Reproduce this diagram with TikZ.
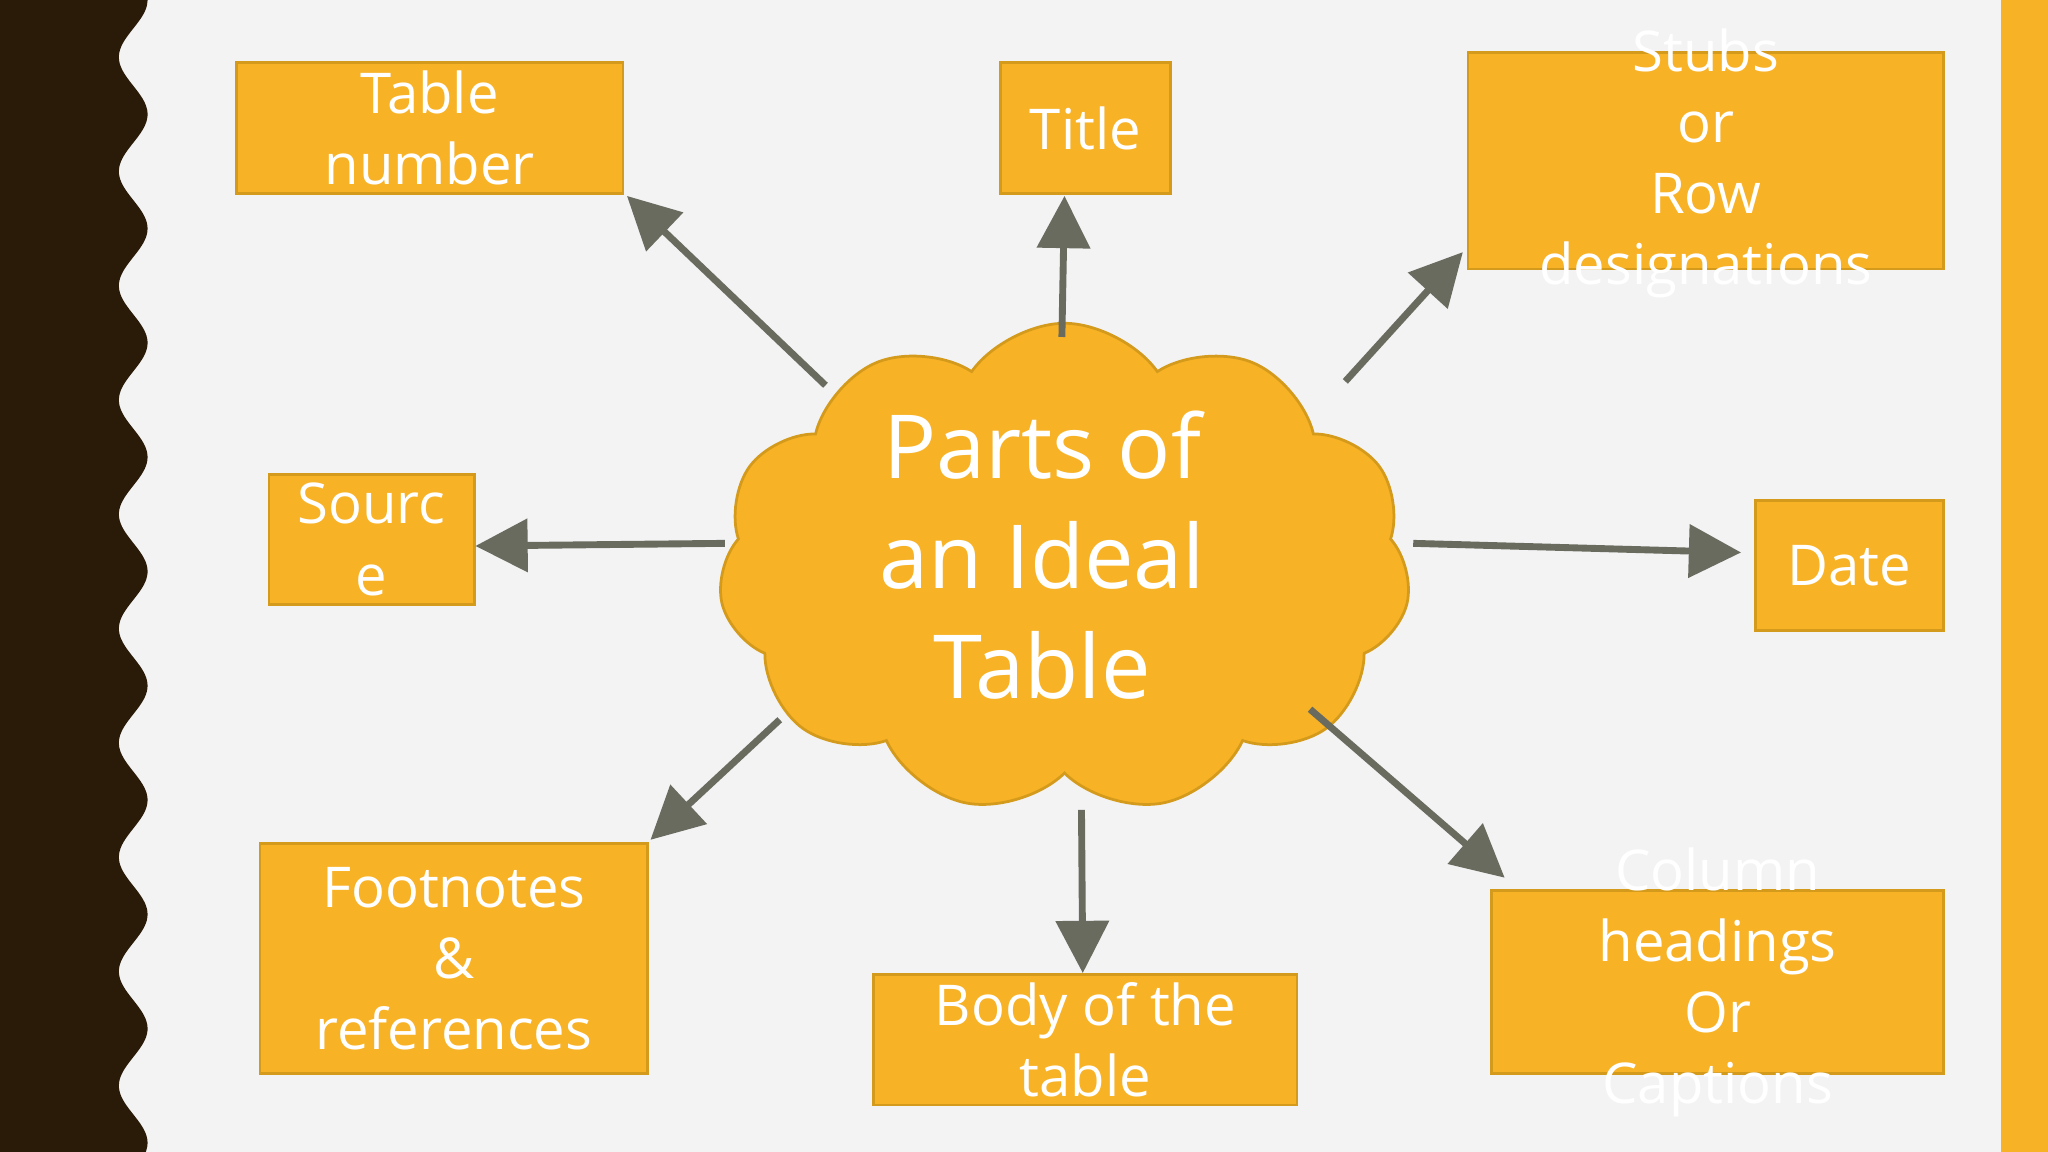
\documentclass[tikz,border=0pt]{standalone}
\usepackage{fontspec}
\setmainfont{Open Sans}
\usetikzlibrary{shapes.symbols,arrows.meta}
\definecolor{bg}{HTML}{F3F3F4}
\definecolor{band}{HTML}{2A1A08}
\definecolor{org}{HTML}{F8B226}
\definecolor{orgline}{HTML}{D49A1C}
\definecolor{arr}{HTML}{686B5E}
\tikzset{
 lbl/.style={text=white,align=center,font=\fontsize{24.5}{31}\selectfont},
 conn/.style={draw=arr,line width=3pt,-{Triangle[length=0.8cm,width=0.8cm]}}
}
\begin{document}
\begin{tikzpicture}[x=0.02cm,y=-0.02cm]
\fill[bg] (0,0) rectangle (1568,882);
\fill[band] (0,0) -- plot[domain=0:882,samples=200,smooth] ({102+11*cos(\x/87.5*360)},\x) -- (0,882) -- cycle;
\fill[org] (1532,0) rectangle (1568,882);
% cloud
\node[cloud,cloud puffs=11,cloud puff arc=110,aspect=1.4,draw=orgline,fill=org,line width=1.2pt,minimum width=530*0.02cm,minimum height=375*0.02cm] (cl) at (815,435) {};
\node[text=white,align=center,font=\fontsize{38.5}{48}\selectfont] at (798,425) {Parts of\\an Ideal\\Table};
% boxes
\node[draw=orgline,fill=org,line width=1.2pt,minimum width=296*0.02cm,minimum height=100*0.02cm,inner sep=0] (tn) at (329,98) {};
\node[lbl] at (tn) {Table\\number};
\node[draw=orgline,fill=org,line width=1.2pt,minimum width=130*0.02cm,minimum height=100*0.02cm,inner sep=0] (ti) at (831,98) {};
\node[lbl] at (ti) {Title};
\node[draw=orgline,fill=org,line width=1.2pt,minimum width=364*0.02cm,minimum height=166*0.02cm,inner sep=0] (st) at (1306,123) {};
\node[lbl] at (1306,125) {Stubs\\or\\Row\\designations};
\node[draw=orgline,fill=org,line width=1.2pt,minimum width=157*0.02cm,minimum height=100*0.02cm,inner sep=0] (so) at (284.5,413) {};
\node[lbl] at (so) {Sourc\\e};
\node[draw=orgline,fill=org,line width=1.2pt,minimum width=144*0.02cm,minimum height=100*0.02cm,inner sep=0] (da) at (1416,433) {};
\node[lbl] at (da) {Date};
\node[draw=orgline,fill=org,line width=1.2pt,minimum width=297*0.02cm,minimum height=176*0.02cm,inner sep=0] (fn) at (347.5,734) {};
\node[lbl] at (fn) {Footnotes\\\&\\references};
\node[draw=orgline,fill=org,line width=1.2pt,minimum width=324*0.02cm,minimum height=100*0.02cm,inner sep=0] (bo) at (831,796) {};
\node[lbl] at (bo) {Body of the\\table};
\node[draw=orgline,fill=org,line width=1.2pt,minimum width=346*0.02cm,minimum height=140*0.02cm,inner sep=0] (ch) at (1315,752) {};
\node[lbl] at (1315,752) {Column\\headings\\Or\\Captions};
% endpoints
\coordinate (a1) at (632,295); \coordinate (b1) at (480,150);
\coordinate (a2) at (813,258); \coordinate (b2) at (815,150);
\coordinate (a3) at (1030,292); \coordinate (b3) at (1120,193);
\coordinate (a4) at (555,416); \coordinate (b4) at (364,418);
\coordinate (a5) at (1082,416); \coordinate (b5) at (1333,423);
\coordinate (a6) at (597,551); \coordinate (b6) at (498,643);
\coordinate (a7) at (828,620); \coordinate (b7) at (829,745);
\coordinate (a8) at (1003,543); \coordinate (b8) at (1152,672);
\foreach \i in {1,...,8} \draw[conn] (a\i) -- (b\i);
\end{tikzpicture}
\end{document}
